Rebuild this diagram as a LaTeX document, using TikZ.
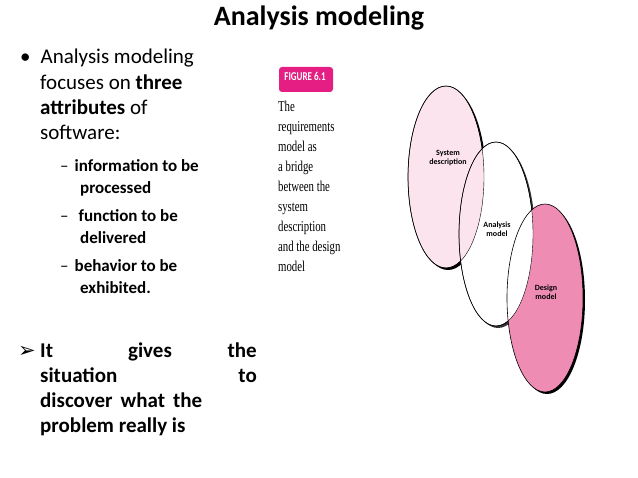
\documentclass[tikz,border=0pt]{standalone}
\usepackage{fontspec}
\setmainfont{Carlito}
\newfontfamily\capfont{Liberation Serif}
\definecolor{pinkA}{RGB}{252,228,238}
\definecolor{pinkC}{RGB}{238,140,180}
\definecolor{mag}{RGB}{228,30,130}
\begin{document}
\begin{tikzpicture}[x=1pt,y=-1pt,
  bl/.style={anchor=base west,inner sep=0pt,font=\fontsize{21}{21}\selectfont},
  sb/.style={anchor=base west,inner sep=0pt,font=\fontsize{17}{17}\selectfont\bfseries},
  cp/.style={anchor=base west,inner sep=0pt,font=\capfont\fontsize{15}{15}\selectfont,xscale=0.72},
  el/.style={draw=black,line width=1.2pt},
  lab/.style={align=center,font=\fontsize{8}{9}\selectfont\bfseries,inner sep=0pt}]
\useasboundingbox (0,0) rectangle (638,478);
\node[anchor=base,inner sep=0pt,font=\fontsize{28}{28}\selectfont\bfseries] (title) at (319,26) {Analysis modeling};
\node[bl] (b1) at (20,64) {•\hspace{10pt}Analysis modeling};
\node[bl] (b2) at (40,90) {focuses on \textbf{three}};
\node[bl] (b3) at (40,115) {\textbf{attributes} of};
\node[bl] (b4) at (40,140) {software:};
\node[sb] (s1) at (60,172) {\mdseries–\hspace{6pt}\bfseries information to be};
\node[sb] (s1b) at (80,194) {processed};
\node[sb] (s2) at (60,222) {\mdseries–\hspace{10pt}\bfseries function to be};
\node[sb] (s2b) at (80,244) {delivered};
\node[sb] (s3) at (60,272) {\mdseries–\hspace{6pt}\bfseries behavior to be};
\node[sb] (s3b) at (80,294) {exhibited.};
\begin{scope}[every node/.style={inner sep=0pt,font=\fontsize{21}{21}\selectfont\bfseries}]
\node[anchor=base west,font=\fontsize{21}{21}\selectfont\fontspec{DejaVu Sans}] (arr) at (18,358) {➢};
\node[anchor=base west] (w1) at (40,358) {It};
\node[anchor=base] (w2) at (150,358) {gives};
\node[anchor=base east] (w3) at (257,358) {the};
\node[anchor=base west] (w4) at (40,383) {situation};
\node[anchor=base east] (w5) at (257,383) {to};
\node[anchor=base west] (w6) at (40,408) {discover\hspace{8pt}what\hspace{8pt}the};
\node[anchor=base west] (w7) at (40,433) {problem really is};
\end{scope}
% figure label
\fill[mag,rounded corners=3pt] (279,67) rectangle (333,92);
\node[text=white,font=\fontsize{12}{12}\selectfont\bfseries,xscale=0.75] (fig) at (305,76) {FIGURE 6.1};
\begin{scope}[every node/.style={cp}]
\node (c1) at (278,112) {The};
\node (c2) at (278,132) {requirements};
\node (c3) at (278,152) {model as};
\node (c4) at (278,172) {a bridge};
\node (c5) at (278,192) {between the};
\node (c6) at (278,212) {system};
\node (c7) at (278,232) {description};
\node (c8) at (278,252) {and the design};
\node (c9) at (278,272) {model};
\end{scope}
% ellipses
\fill[black] (448,179) ellipse[x radius=38,y radius=91];
\fill[pinkA] (446,177) ellipse[x radius=38,y radius=91];
\draw[line width=0.6pt] (446,177) ellipse[x radius=38,y radius=91];
\fill[black!80] (498,236) ellipse[x radius=37,y radius=92];
\fill[white] (496,234) ellipse[x radius=37,y radius=92];
\begin{scope}
\clip (446,177) ellipse[x radius=38,y radius=91];
\fill[pinkA] (496,234) ellipse[x radius=37,y radius=92];
\end{scope}
\draw[line width=0.6pt] (496,234) ellipse[x radius=37,y radius=92];
\draw[line width=0.4pt] (446,177) ellipse[x radius=38,y radius=91];
\fill[black] (547,300) ellipse[x radius=38,y radius=94];
\fill[pinkC] (545,298) ellipse[x radius=38,y radius=94];
\begin{scope}
\clip (545,298) ellipse[x radius=38,y radius=94];
\fill[white] (496,234) ellipse[x radius=37,y radius=92];
\end{scope}
\draw[line width=0.6pt] (545,298) ellipse[x radius=38,y radius=94];
\draw[line width=0.4pt] (496,234) ellipse[x radius=37,y radius=92];
\node[lab] (sd) at (448,158) {System\\description};
\node[lab] (am) at (497,229) {Analysis\\model};
\node[lab] (dm) at (546,292) {Design\\model};
\end{tikzpicture}
\end{document}
